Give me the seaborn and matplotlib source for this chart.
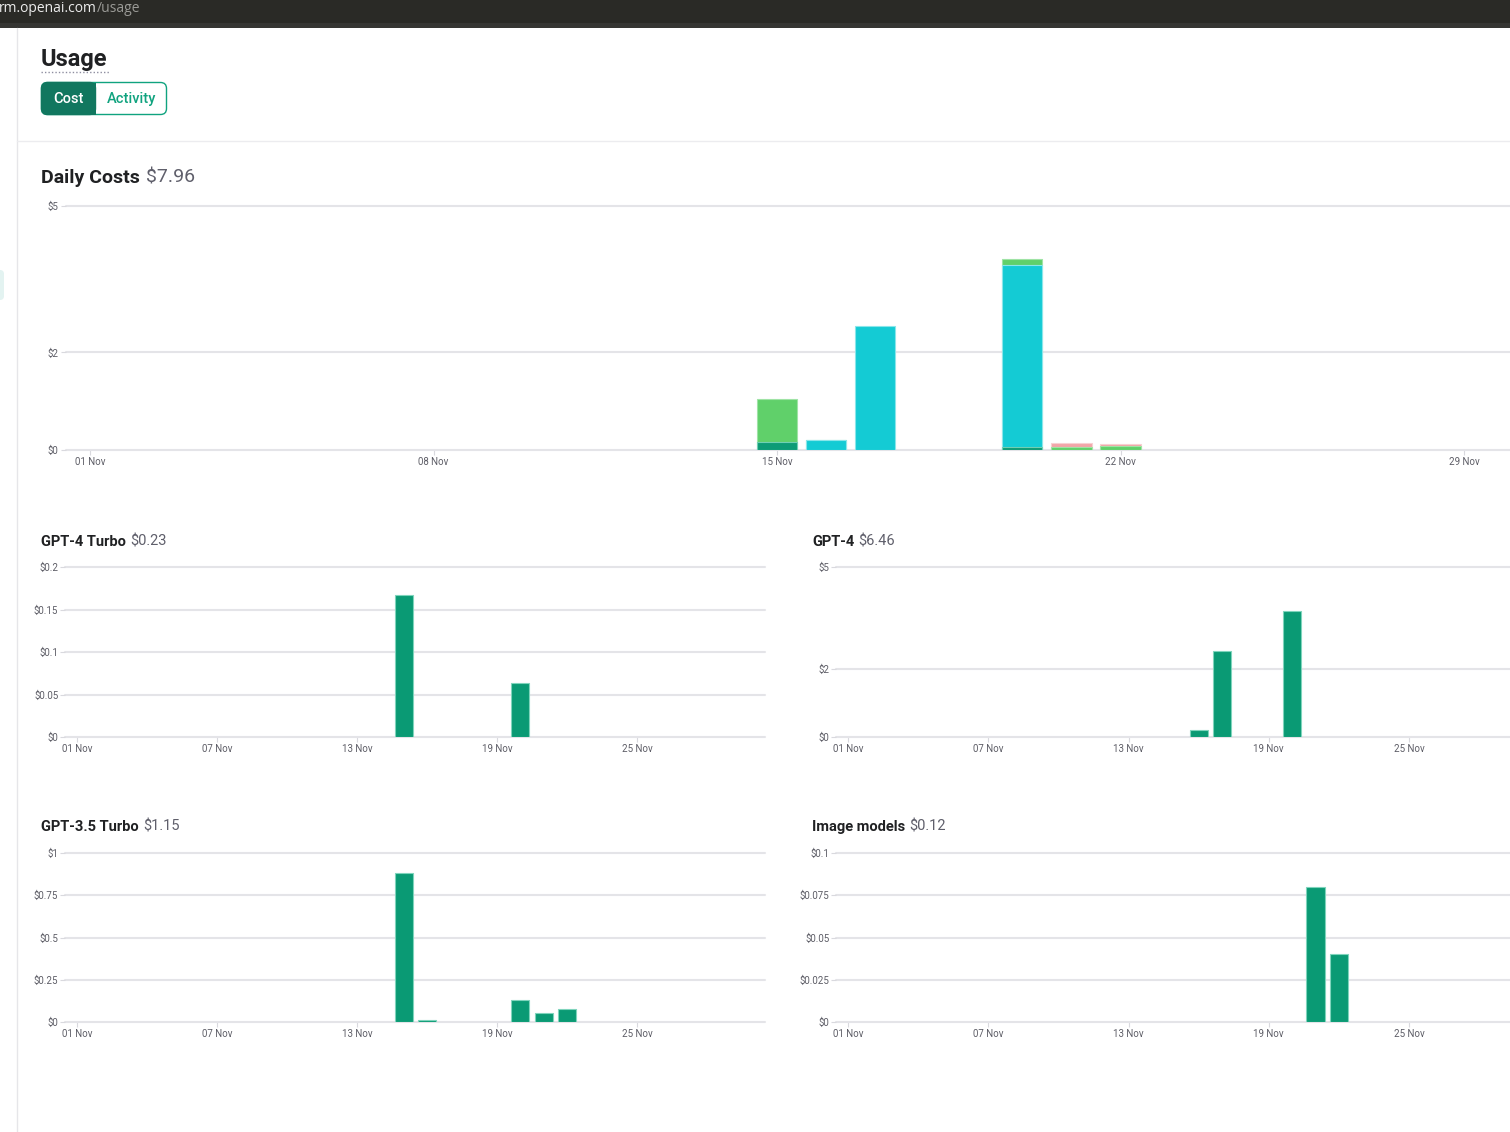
import pandas as pd
import seaborn as sns
import matplotlib.pyplot as plt
from matplotlib.patches import FancyBboxPatch, Rectangle

W, H = 1510, 1132

# ---- data (November, daily cost in $) ----
all_days = list(range(1, 31))

gpt4_turbo_days = [15, 20]
gpt4_turbo_cost = [0.167, 0.063]

gpt4_days = [16, 17, 20]
gpt4_cost = [0.20, 2.54, 3.72]

gpt35_days = [15, 16, 20, 21, 22]
gpt35_cost = [0.88, 0.01, 0.13, 0.055, 0.075]

image_days = [21, 22]
image_cost = [0.08, 0.04]

model_names = ["GPT-4 Turbo", "GPT-4", "GPT-3.5 Turbo", "Image models"]
model_totals = ["$0.23", "$6.46", "$1.15", "$0.12"]
daily_total = "$7.96"

main_yticks = [0, 2, 5]
main_ylabels = ["$0", "$2", "$5"]
main_xdays = [1, 8, 15, 22, 29]
main_xlabels = ["01 Nov", "08 Nov", "15 Nov", "22 Nov", "29 Nov"]

small_xdays = [1, 7, 13, 19, 25]
small_xlabels = ["01 Nov", "07 Nov", "13 Nov", "19 Nov", "25 Nov"]

turbo_yticks = [0, 0.05, 0.1, 0.15, 0.2]
turbo_ylabels = ["$0", "$0.05", "$0.1", "$0.15", "$0.2"]
gpt4_yticks = [0, 2, 5]
gpt4_ylabels = ["$0", "$2", "$5"]
gpt35_yticks = [0, 0.25, 0.5, 0.75, 1]
gpt35_ylabels = ["$0", "$0.25", "$0.5", "$0.75", "$1"]
image_yticks = [0, 0.025, 0.05, 0.075, 0.1]
image_ylabels = ["$0", "$0.025", "$0.05", "$0.075", "$0.1"]

# stack colours in the big chart, one per model
stack_colors = ["#0d9b76", "#14cbd4", "#60d06a", "#f2a5a8"]
stack_edges = ["#6fcfb3", "#8ae6ea", "#9fe3a5", "#f8cfd1"]
bar_green = "#0a9a74"
bar_edge = "#7fd4bc"

frames = []
for name, d, c in zip(model_names,
                      [gpt4_turbo_days, gpt4_days, gpt35_days, image_days],
                      [gpt4_turbo_cost, gpt4_cost, gpt35_cost, image_cost]):
    frames.append(pd.DataFrame({"model": name, "day": d, "cost": c}))
df = pd.concat(frames, ignore_index=True)

wide = (df.pivot_table(index="day", columns="model", values="cost", aggfunc="sum")
          .reindex(index=all_days, columns=model_names).fillna(0))
cum = wide.cumsum(axis=1)

sns.set_theme(style="white")
plt.rcParams["font.family"] = ["Roboto", "DejaVu Sans"]

fig = plt.figure(figsize=(W / 100, H / 100), dpi=100)
fig.patch.set_facecolor("white")

# background axes in pixel coordinates for the page chrome
bg = fig.add_axes([0, 0, 1, 1])
bg.set_xlim(0, W)
bg.set_ylim(H, 0)
bg.axis("off")

bg.add_patch(Rectangle((0, 0), W, 23, color="#2a2a26", lw=0))
bg.add_patch(Rectangle((0, 23), W, 5, color="#363633", lw=0))
url = bg.text(-1, 12, "rm.openai.com", color="#ececec", fontsize=10, va="baseline",
              family=["Open Sans", "DejaVu Sans"])
bg.annotate("/usage", xy=(1, 0), xycoords=url, xytext=(0, 0), textcoords="offset points",
            color="#9a9a96", fontsize=10, va="bottom", family=["Open Sans", "DejaVu Sans"])

bg.plot([16.5, 16.5], [28, H], color="#e6e6e9", lw=1)
bg.plot([16.5, W], [140.5, 140.5], color="#ececef", lw=1)
bg.add_patch(FancyBboxPatch((-6, 270), 10, 30, boxstyle="round,pad=0,rounding_size=4",
                            color="#e3f3f1", lw=0))

bg.text(41, 66, "Usage", fontsize=17, fontweight="bold", color="#202123", va="baseline")
bg.plot([41, 110], [71.5, 71.5], color="#8e8ea0", lw=1, ls=(0, (1, 1.5)))

bg.add_patch(FancyBboxPatch((41.5, 82.5), 125, 32, boxstyle="round,pad=0,rounding_size=6",
                            facecolor="white", edgecolor="#10a37f", lw=1))
bg.add_patch(FancyBboxPatch((41.5, 82.5), 54, 32, boxstyle="round,pad=0,rounding_size=6",
                            facecolor="#11775f", edgecolor="#11775f", lw=1))
bg.add_patch(Rectangle((85, 82.5), 11, 32, color="#11775f", lw=0))
bg.text(68.5, 99, "Cost", fontsize=10.5, fontweight="medium", color="white",
        ha="center", va="center")
bg.text(131.5, 99, "Activity", fontsize=10.5, fontweight="medium", color="#10a37f",
        ha="center", va="center")


def title(x, y, name, value, size):
    t = bg.text(x, y, name, fontsize=size, fontweight="bold", color="#202123", va="baseline")
    bg.annotate(value, xy=(1, 0), xycoords=t, xytext=(size * 0.3, 0),
                textcoords="offset points", fontsize=size, color="#5f5f6b", va="bottom")


title(41, 183, "Daily Costs", daily_total, 14)


def px_axes(left, top, right, bottom):
    return fig.add_axes([left / W, 1 - bottom / H, (right - left) / W, (bottom - top) / H])


def style(ax, yticks, ylabels, xdays, xlabels):
    ax.set_facecolor("none")
    ax.set_xlim(-0.5, len(all_days) - 0.5)
    ax.set_ylim(yticks[0], yticks[-1])
    ax.set_yticks(yticks, ylabels)
    ax.set_xticks([d - 1 for d in xdays], xlabels)
    ax.set_xlabel("")
    ax.set_ylabel("")
    for s in ax.spines.values():
        s.set_visible(False)
    ax.yaxis.grid(True, color="#e4e4e8", lw=1.5)
    ax.xaxis.grid(False)
    ax.set_axisbelow(True)
    for gl in ax.get_ygridlines():
        gl.set_clip_on(False)
    ax.tick_params(axis="both", bottom=True, left=True, length=3.5, width=0.8,
                   color="#d9d9de", labelsize=7, labelcolor="#5d5d66", pad=1.5)


# ---- big stacked chart ----
ax = px_axes(65.5, 206, 1537.6, 450)
for i in reversed(range(len(model_names))):
    m = model_names[i]
    keep = wide[m] > 0
    layer = pd.DataFrame({"day": cum.index[keep], "height": cum[m][keep].values})
    sns.barplot(data=layer, x="day", y="height", order=all_days, color=stack_colors[i],
                saturation=1, width=0.82, errorbar=None, linewidth=0.8,
                edgecolor=stack_edges[i], ax=ax)
style(ax, main_yticks, main_ylabels, main_xdays, main_xlabels)

# ---- per-model charts ----
small_boxes = [
    (41, 545.5, 65.3, 567, 765.3, 737),
    (812, 545.5, 836.3, 567, 1537.6, 737),
    (41, 831, 65.3, 853, 765.3, 1022),
    (812, 831, 836.3, 853, 1537.6, 1022),
]
small_ticks = [(turbo_yticks, turbo_ylabels), (gpt4_yticks, gpt4_ylabels),
               (gpt35_yticks, gpt35_ylabels), (image_yticks, image_ylabels)]

for (tx, ty, l, t, r, b), name, total, (yt, yl) in zip(small_boxes, model_names,
                                                      model_totals, small_ticks):
    title(tx, ty, name, total, 10.5)
    ax = px_axes(l, t, r, b)
    sub = df[df["model"] == name]
    sns.barplot(data=sub, x="day", y="cost", order=all_days, color=bar_green,
                saturation=1, width=0.78, errorbar=None, linewidth=0.8,
                edgecolor=bar_edge, ax=ax)
    style(ax, yt, yl, small_xdays, small_xlabels)

fig.savefig("out.png", dpi=100, facecolor="white")
